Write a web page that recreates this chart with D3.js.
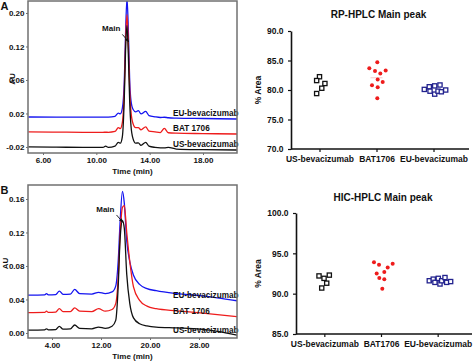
<!DOCTYPE html>
<html>
<head>
<meta charset="utf-8">
<script src="https://cdn.jsdelivr.net/npm/d3@7"></script>
<style>
body { margin: 0; background: #fff; }
svg text { font-family: "Liberation Sans", Arial, Helvetica, sans-serif; font-weight: bold; fill: #111; }
</style>
</head>
<body>
<svg id="chart" width="474" height="362"></svg>
<script>
// ---------- data ----------
const traceNames = ['EU-bevacizumab', 'BAT 1706', 'US-bevacizumab'];
const groups = ['US-bevacizumab', 'BAT1706', 'EU-bevacizumab'];

// A: RP-HPLC chromatograms (time in min, AU)
const rpTime = [4.9, 7, 9, 10.5, 10.7, 10.9, 11.4, 11.65, 11.8, 11.95, 12.1, 12.2, 12.3, 12.4, 12.5, 12.6,
    12.75, 12.95, 13.15, 13.35, 13.7, 13.95, 14.4, 14.8, 15.1, 15.4, 16.0, 18.0, 20.55];
const rpEU = [0.0158, 0.0157, 0.0156, 0.0156, 0.0157, 0.0156, 0.0165, 0.0205, 0.0195, 0.026, 0.06, 0.12, 0.158,
    0.12, 0.06, 0.035, 0.025, 0.022, 0.0235, 0.0195, 0.0225, 0.0175, 0.016, 0.0152, 0.0155, 0.0149, 0.0145, 0.014, 0.0134];
const rpBAT = [-0.002, -0.0022, -0.0025, -0.0025, -0.0024, -0.0025, -0.0015, 0.003, 0.002, 0.009, 0.05, 0.11, 0.138,
    0.105, 0.05, 0.022, 0.008, 0.003, 0.003, 0.0005, 0.004, -0.001, -0.002, -0.0028, 0.0022, -0.003, -0.0035, -0.004, -0.0045];
const rpUS = [-0.02, -0.0202, -0.0205, -0.0205, -0.019, -0.0205, -0.019, -0.0145, -0.0155, -0.008, 0.04, 0.10, 0.125,
    0.09, 0.035, 0.005, -0.01, -0.0155, -0.015, -0.018, -0.0145, -0.019, -0.0205, -0.021, -0.021, -0.0205, -0.0225, -0.0232, -0.0236];
const rpYTicks = [-0.02, 0.02, 0.06, 0.10, 0.14];
const rpYTickLabels = ['-0.02', '0.02', '0.06', '0.12', '0.20'];
const rpXTicks = [6, 10, 14, 18];

// B: HIC-HPLC chromatograms
const hicTime = [0.08, 2.8, 3.1, 3.4, 4.6, 5.2, 5.8, 7.0, 7.7, 8.5, 10.5, 11.6, 12.7, 13.8, 14.4, 14.8, 15.1,
    15.5, 15.8, 16.2, 16.7, 17.3, 18.3, 19.5, 21, 24.4, 28.2, 31, 34.2];
const hicEU = [0.0452, 0.0455, 0.047, 0.0455, 0.0458, 0.05, 0.0462, 0.0465, 0.052, 0.047, 0.0465, 0.0485, 0.047,
    0.049, 0.056, 0.085, 0.13, 0.169, 0.155, 0.11, 0.085, 0.069, 0.058, 0.053, 0.0505, 0.047, 0.0445, 0.042, 0.0385];
const hicBAT = [0.0243, 0.0245, 0.026, 0.0245, 0.025, 0.029, 0.0255, 0.0255, 0.03, 0.026, 0.0255, 0.029, 0.026,
    0.028, 0.035, 0.065, 0.115, 0.15, 0.152, 0.12, 0.085, 0.055, 0.039, 0.032, 0.029, 0.0265, 0.024, 0.022, 0.0195];
const hicUS = [0.0035, 0.0038, 0.005, 0.0038, 0.004, 0.008, 0.0045, 0.0048, 0.0095, 0.0055, 0.005, 0.007, 0.0055,
    0.008, 0.015, 0.055, 0.11, 0.134, 0.125, 0.07, 0.035, 0.018, 0.011, 0.0085, 0.007, 0.006, 0.0045, 0.002, -0.0025];
const hicYTicks = [0, 0.04, 0.08, 0.12, 0.16];
const hicXTicks = [4, 12, 20, 28];

// RP-HPLC main peak % area (jitter = offset as fraction of category step)
const rpMainUS = [82.25, 81.6, 81.1, 80.3, 79.4];
const rpJitterUS = [0, -0.05, 0.095, 0.04, -0.05];
const rpMainBAT = [84.7, 83.7, 83.2, 83.3, 82.8, 81.8, 81.35, 80.8, 80.45, 78.6];
const rpJitterBAT = [0.014, -0.126, -0.026, 0.161, 0.067, 0.021, 0.109, -0.079, 0.021, 0.014];
const rpMainEU = [80.1, 80.55, 79.8, 80.7, 79.3, 79.8, 80.85, 79.7, 80.0];
const rpJitterEU = [-0.161, -0.074, -0.061, 0.021, 0.021, 0.079, 0.114, 0.137, 0.214];

// HIC-HPLC main peak % area
const hicMainUS = [92.2, 91.9, 92.3, 91.3, 90.7];
const hicJitterUS = [-0.094, -0.005, 0.088, 0.042, -0.046];
const hicMainBAT = [93.9, 93.6, 93.7, 93.25, 92.7, 92.5, 91.95, 91.8, 90.6];
const hicJitterBAT = [-0.124, -0.035, 0.206, 0.118, 0.058, -0.076, -0.03, 0.058, 0.023];
const hicMainEU = [91.6, 91.8, 91.4, 91.9, 91.2, 91.6, 92.0, 91.4, 91.5];
const hicJitterEU = [-0.148, -0.078, -0.048, 0.011, 0.041, 0.071, 0.129, 0.159, 0.229];

// ---------- drawing ----------
const COLORS = { blue: '#1414f0', red: '#ee1c1c', black: '#111', navy: '#22228e', frame: '#707070' };
const svg = d3.select('#chart');

svg.append('defs').append('marker')
    .attr('id', 'arrow')
    .attr('viewBox', '0 0 10 10')
    .attr('refX', 9).attr('refY', 5)
    .attr('markerWidth', 5).attr('markerHeight', 5)
    .attr('orient', 'auto')
    .append('path').attr('d', 'M0,1L10,5L0,9Z').attr('fill', '#111');

function chromatogram(O) {
    const x = d3.scaleLinear().domain(O.xDomain).range([O.x0, O.x1]);
    const y = d3.scaleLinear().domain(O.yDomain).range([O.y1, O.y0]);
    const g = svg.append('g');

    g.append('clipPath').attr('id', O.id)
        .append('rect')
        .attr('x', O.x0).attr('y', O.y0)
        .attr('width', O.x1 - O.x0).attr('height', O.y1 - O.y0);

    const line = d3.line()
        .x((d, i) => x(O.time[i]))
        .y(d => y(d))
        .curve(d3.curveMonotoneX);

    O.series.forEach((s, i) => {
        g.append('path')
            .attr('d', line(s.values))
            .attr('clip-path', `url(#${O.id})`)
            .attr('fill', 'none')
            .attr('stroke', s.color)
            .attr('stroke-width', 1.3);
        g.append('text')
            .attr('x', O.labelX)
            .attr('y', y(s.values[s.values.length - 1]) - 2.5)
            .attr('font-size', 8.2)
            .text(traceNames[i]);
    });

    // frame
    g.append('rect')
        .attr('x', O.x0).attr('y', O.y0)
        .attr('width', O.x1 - O.x0).attr('height', O.y1 - O.y0)
        .attr('fill', 'none')
        .attr('stroke', COLORS.frame)
        .attr('stroke-width', 1.5);

    const yAxis = g.append('g')
        .attr('transform', `translate(${O.x0},0)`)
        .call(d3.axisLeft(y).tickValues(O.yTicks).tickSize(2).tickPadding(1.5)
            .tickFormat((d, i) => O.yLabels[i]));
    const xAxis = g.append('g')
        .attr('transform', `translate(0,${O.y1})`)
        .call(d3.axisBottom(x).tickValues(O.xTicks).tickSize(2).tickPadding(2.5)
            .tickFormat(d3.format('.2f')));
    [yAxis, xAxis].forEach(a => {
        a.select('.domain').remove();
        a.selectAll('line').attr('stroke', COLORS.frame);
        a.selectAll('text').attr('font-size', 8).attr('fill', '#111').attr('font-family', null);
    });

    g.append('text')
        .attr('x', (O.x0 + O.x1) / 2)
        .attr('y', O.y1 + 20.5)
        .attr('text-anchor', 'middle')
        .attr('font-size', 8)
        .text('Time (min)');

    g.append('text')
        .attr('transform', `translate(${O.auX},${(O.y0 + O.y1) / 2 + 2}) rotate(-90)`)
        .attr('text-anchor', 'middle')
        .attr('dominant-baseline', 'central')
        .attr('font-size', 8)
        .text('AU');

    g.append('text')
        .attr('x', 0.5).attr('y', O.y0 + 9)
        .attr('font-size', 11)
        .text(O.letter);

    // "Main" annotation
    const [tx, ty] = [x(O.main[0]), y(O.main[1])];
    g.append('text')
        .attr('x', tx).attr('y', ty)
        .attr('text-anchor', 'end')
        .attr('font-size', 8)
        .text('Main');
    g.append('line')
        .attr('x1', tx + 2).attr('y1', ty + 3)
        .attr('x2', tx + 8.5).attr('y2', ty + 10.5)
        .attr('stroke', '#111')
        .attr('stroke-width', 0.9)
        .attr('marker-end', 'url(#arrow)');
}

function dotPlot(O) {
    const x = d3.scalePoint().domain(groups).range([O.x0, O.x1]).padding(0.5);
    const y = d3.scaleLinear().domain(O.yDomain).range([O.y1, O.y0]);
    const step = x.step();
    const g = svg.append('g');

    g.append('text')
        .attr('x', x(groups[1]) + 2)
        .attr('y', O.titleY)
        .attr('text-anchor', 'middle')
        .attr('font-size', 10)
        .text(O.title);

    const yAxis = g.append('g')
        .attr('transform', `translate(${O.x0},0)`)
        .call(d3.axisLeft(y).ticks(O.yTickCount).tickSize(3).tickPadding(4.5)
            .tickFormat(d3.format('.1f')).tickSizeOuter(0));
    const xAxis = g.append('g')
        .attr('transform', `translate(0,${O.y1})`)
        .call(d3.axisBottom(x).tickSize(3).tickPadding(3.5).tickSizeOuter(0));
    xAxis.select('.domain').remove();
    xAxis.append('line')
        .attr('x1', O.x0).attr('x2', O.axisEnd)
        .attr('stroke', '#111').attr('stroke-width', 1.6);
    [yAxis, xAxis].forEach(a => {
        a.selectAll('.domain').attr('stroke', '#111').attr('stroke-width', 1.6);
        a.selectAll('.tick line').attr('stroke', '#111').attr('stroke-width', 1.2);
        a.selectAll('text').attr('font-size', 8.5).attr('fill', '#111').attr('font-family', null);
    });

    g.append('text')
        .attr('transform', `translate(258,${(O.y0 + O.y1) / 2}) rotate(-90)`)
        .attr('text-anchor', 'middle')
        .attr('dominant-baseline', 'central')
        .attr('font-size', 8.5)
        .text('% Area');

    O.sets.forEach((set, gi) => {
        const cx = x(groups[gi]);
        if (set.meanColor) {
            const m = d3.mean(set.values);
            g.append('line')
                .attr('x1', cx - 6).attr('x2', cx + 6)
                .attr('y1', y(m)).attr('y2', y(m))
                .attr('stroke', set.meanColor).attr('stroke-width', 0.8);
        }
        const pts = set.values.map((v, i) => [cx + set.jitter[i] * step, y(v)]);
        if (set.shape === 'square') {
            g.selectAll(null).data(pts).join('rect')
                .attr('x', d => d[0] - 2.1).attr('y', d => d[1] - 2.1)
                .attr('width', 4.2).attr('height', 4.2)
                .attr('fill', '#fff')
                .attr('stroke', set.color)
                .attr('stroke-width', 1.3);
        } else {
            g.selectAll(null).data(pts).join('circle')
                .attr('cx', d => d[0]).attr('cy', d => d[1])
                .attr('r', 2)
                .attr('fill', set.color);
        }
    });
}

chromatogram({
    id: 'clipA', letter: 'A',
    x0: 28, x1: 237, y0: 1, y1: 153,
    xDomain: [4.875, 20.55], yDomain: [-0.0272, 0.1543],
    time: rpTime,
    series: [
        { values: rpEU, color: COLORS.blue },
        { values: rpBAT, color: COLORS.red },
        { values: rpUS, color: COLORS.black }
    ],
    yTicks: rpYTicks, yLabels: rpYTickLabels, xTicks: rpXTicks,
    labelX: 173, auX: 12.5,
    main: [11.8, 0.118]
});

chromatogram({
    id: 'clipB', letter: 'B',
    x0: 28, x1: 237, y0: 185, y1: 338,
    xDomain: [0.08, 34.2], yDomain: [-0.006, 0.1767],
    time: hicTime,
    series: [
        { values: hicEU, color: COLORS.blue },
        { values: hicBAT, color: COLORS.red },
        { values: hicUS, color: COLORS.black }
    ],
    yTicks: hicYTicks, yLabels: hicYTicks.map(d3.format('.2f')), xTicks: hicXTicks,
    labelX: 173, auX: 5.5,
    main: [14.2, 0.1445]
});

dotPlot({
    title: 'RP-HPLC Main peak', titleY: 17.5,
    x0: 291, x1: 462, axisEnd: 469, y0: 31, y1: 149,
    yDomain: [70, 90], yTickCount: 4,
    sets: [
        { values: rpMainUS, jitter: rpJitterUS, shape: 'square', color: COLORS.black },
        { values: rpMainBAT, jitter: rpJitterBAT, shape: 'dot', color: COLORS.red, meanColor: '#f5b5b5' },
        { values: rpMainEU, jitter: rpJitterEU, shape: 'square', color: COLORS.navy }
    ]
});

dotPlot({
    title: 'HIC-HPLC Main peak', titleY: 201,
    x0: 296, x1: 466, axisEnd: 472, y0: 213, y1: 334,
    yDomain: [85, 100], yTickCount: 3,
    sets: [
        { values: hicMainUS, jitter: hicJitterUS, shape: 'square', color: COLORS.black },
        { values: hicMainBAT, jitter: hicJitterBAT, shape: 'dot', color: COLORS.red },
        { values: hicMainEU, jitter: hicJitterEU, shape: 'square', color: COLORS.navy }
    ]
});
</script>
</body>
</html>
